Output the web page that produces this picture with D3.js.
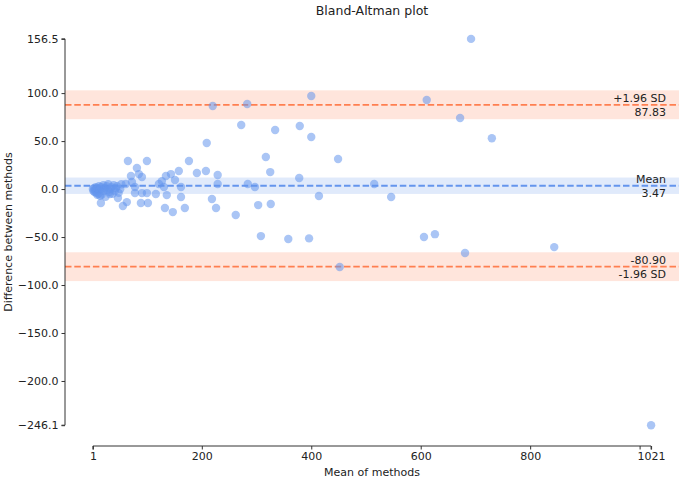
<!DOCTYPE html>
<html>
<head>
<meta charset="utf-8">
<script src="https://cdn.jsdelivr.net/npm/d3@7"></script>
<style>
  body { margin: 0; background: #fff; }
  svg { font-family: "DejaVu Sans", sans-serif; }
</style>
</head>
<body>
<svg id="chart" width="685" height="480"></svg>
<script>
// ---- data ----
const means = [
  1, 2, 3, 4, 5, 6, 7, 8, 9, 10, 11, 12, 13, 14, 16, 17, 18, 20, 21, 23, 24, 26, 28, 29, 31, 33, 35, 37, 39, 41, 43, 45, 48, 51, 53,
  15.6, 32, 46.7, 55.8, 63, 61, 65, 70.5, 72.3, 77.8, 77.8, 81.4, 85, 90.6, 88.7, 90.6, 99.7, 101.5, 99.7,
  116, 121.6, 127, 130.8, 134.4, 132.6, 136, 143.6, 147, 151, 158, 162, 162, 169, 176.5, 191, 207.5, 209,
  218.5, 220, 226, 229, 229, 262, 272, 283, 284, 297, 303, 308, 317, 325, 326, 334, 358, 378, 379, 396,
  400, 400, 414, 449, 452, 515, 546, 606, 611, 626, 672, 681, 692, 730, 844, 1021
];
const diffs = [
  0, -2, 1, -3, -1, 2, -4, 0, -6, 1, -5, 3, -1, -7, 2, -6, 0, 4, -2, 1, -8, 3, -1, 5, -3, 0, 2, -5, 4, -2, 1, 3, -4, 0, 5,
  -14.6, -5.2, -9.4, -17.7, -13.6, 5.2, 29.2, 13.6, 7.3, 2.1, -4.2, 21.9, 15.6, 12.5, -14.6, -4.2, -4.2, -14.6, 29.2,
  -5.2, 5.2, 8.3, 2.1, 13.6, -19.8, -6.3, 15.6, -24, 9.4, 18.8, 2.1, -8.3, -19.8, 29.2, 16.7, 18.8, 48,
  -10.4, 86.5, -19.8, 14.6, 5.2, -27, 66.7, 88.6, 5.2, 2.1, -16.7, -49, 33.4, 17.7, -15.6, 61.5, -52, 11.5, 65.7, -51.4,
  97, 54.2, -7.3, 31.3, -81.3, 5.2, -8.3, -50, 92.8, -47, 74, -66.7, 156.5, 53, -60.5, -246.1
];
const meanDiff = 3.47;
const upperLoA = 87.83;
const lowerLoA = -80.90;
const upperBand = [72.8, 102.9];
const meanBand = [-5.1, 12.0];
const lowerBand = [-95.9, -65.9];
const xTickValues = [1, 200, 400, 600, 800, 1000, 1021];
const xTickLabels = ["1", "200", "400", "600", "800", "", "1021"];
const yTickValues = [156.5, 100, 50, 0, -50, -100, -150, -200, -246.1];
const yTickLabels = ["156.5", "100.0", "50.0", "0.0", "\u221250.0", "\u2212100.0", "\u2212150.0", "\u2212200.0", "\u2212246.1"];

// ---- layout ----
const svg = d3.select("#chart");
const pLeft = 65, pRight = 679, pTop = 19.6, pBottom = 444.5;
const x = d3.scaleLinear().domain([-50, 1072]).range([pLeft, pRight]);
const y = d3.scaleLinear().domain([-266.2, 176.6]).range([pBottom, pTop]);

const blue = "#6495ED", coral = "#FF7F50";

// bands
const bands = [[upperBand, coral], [meanBand, blue], [lowerBand, coral]];
svg.selectAll("rect.band").data(bands).enter().append("rect")
  .attr("x", pLeft).attr("width", pRight - pLeft)
  .attr("y", d => y(d[0][1]))
  .attr("height", d => y(d[0][0]) - y(d[0][1]))
  .attr("fill", d => d[1]).attr("fill-opacity", 0.2);

// lines
const lines = [[upperLoA, coral], [meanDiff, blue], [lowerLoA, coral]];
svg.selectAll("line.ref").data(lines).enter().append("line")
  .attr("x1", pLeft).attr("x2", pRight)
  .attr("y1", d => y(d[0])).attr("y2", d => y(d[0]))
  .attr("stroke", d => d[1]).attr("stroke-width", 1.8)
  .attr("stroke-dasharray", "6.5,2.8");

// points
const pts = means.map((m, i) => ({m, d: diffs[i]}));
svg.append("g").selectAll("circle").data(pts).enter().append("circle")
  .attr("cx", d => x(d.m)).attr("cy", d => y(d.d)).attr("r", 4.2)
  .attr("fill", blue).attr("fill-opacity", 0.55);

// annotations
const fs = 11;
const ann = [
  [upperLoA, "+1.96 SD", true], [upperLoA, upperLoA.toFixed(2), false],
  [meanDiff, "Mean", true], [meanDiff, meanDiff.toFixed(2), false],
  [lowerLoA, lowerLoA.toFixed(2), true], [lowerLoA, "-1.96 SD", false]
];
svg.selectAll("text.ann").data(ann).enter().append("text")
  .attr("x", 666).attr("y", d => d[2] ? y(d[0]) - 3 : y(d[0]) + 11)
  .attr("text-anchor", "end").attr("font-size", fs).attr("fill", "#222")
  .text(d => d[1]);

// y axis
const yAxis = d3.axisLeft(y).tickValues(yTickValues)
  .tickFormat((d, i) => yTickLabels[i]).tickSize(3.5).tickSizeOuter(0);
const gy = svg.append("g").attr("transform", `translate(${pLeft},0)`).call(yAxis);
gy.select(".domain").attr("d", `M-3.5,${y(156.5)}H0V${y(-246.1)}H-3.5`).attr("stroke", "#333");
gy.selectAll("text").attr("font-size", fs).attr("fill", "#222").attr("font-family", "DejaVu Sans");
gy.selectAll("line").attr("stroke", "#333");

// x axis
const xAxis = d3.axisBottom(x).tickValues(xTickValues)
  .tickFormat((d, i) => xTickLabels[i]).tickSize(3.5).tickSizeOuter(0);
const gx = svg.append("g").attr("transform", `translate(0,446)`).call(xAxis);
gx.select(".domain").attr("d", `M${x(1)},3.5V0H${x(1021)}V3.5`).attr("stroke", "#333");
gx.selectAll("text").attr("font-size", fs).attr("fill", "#222").attr("font-family", "DejaVu Sans");
gx.selectAll("line").attr("stroke", "#333");

// labels
svg.append("text").attr("x", (pLeft + pRight) / 2).attr("y", 476)
  .attr("text-anchor", "middle").attr("font-size", fs).attr("fill", "#222")
  .text("Mean of methods");
svg.append("text").attr("transform", `translate(12,${(pTop + pBottom) / 2}) rotate(-90)`)
  .attr("text-anchor", "middle").attr("font-size", fs).attr("fill", "#222")
  .text("Difference between methods");
svg.append("text").attr("x", (pLeft + pRight) / 2).attr("y", 15)
  .attr("text-anchor", "middle").attr("font-size", 12.5).attr("fill", "#222")
  .text("Bland-Altman plot");
</script>
</body>
</html>
